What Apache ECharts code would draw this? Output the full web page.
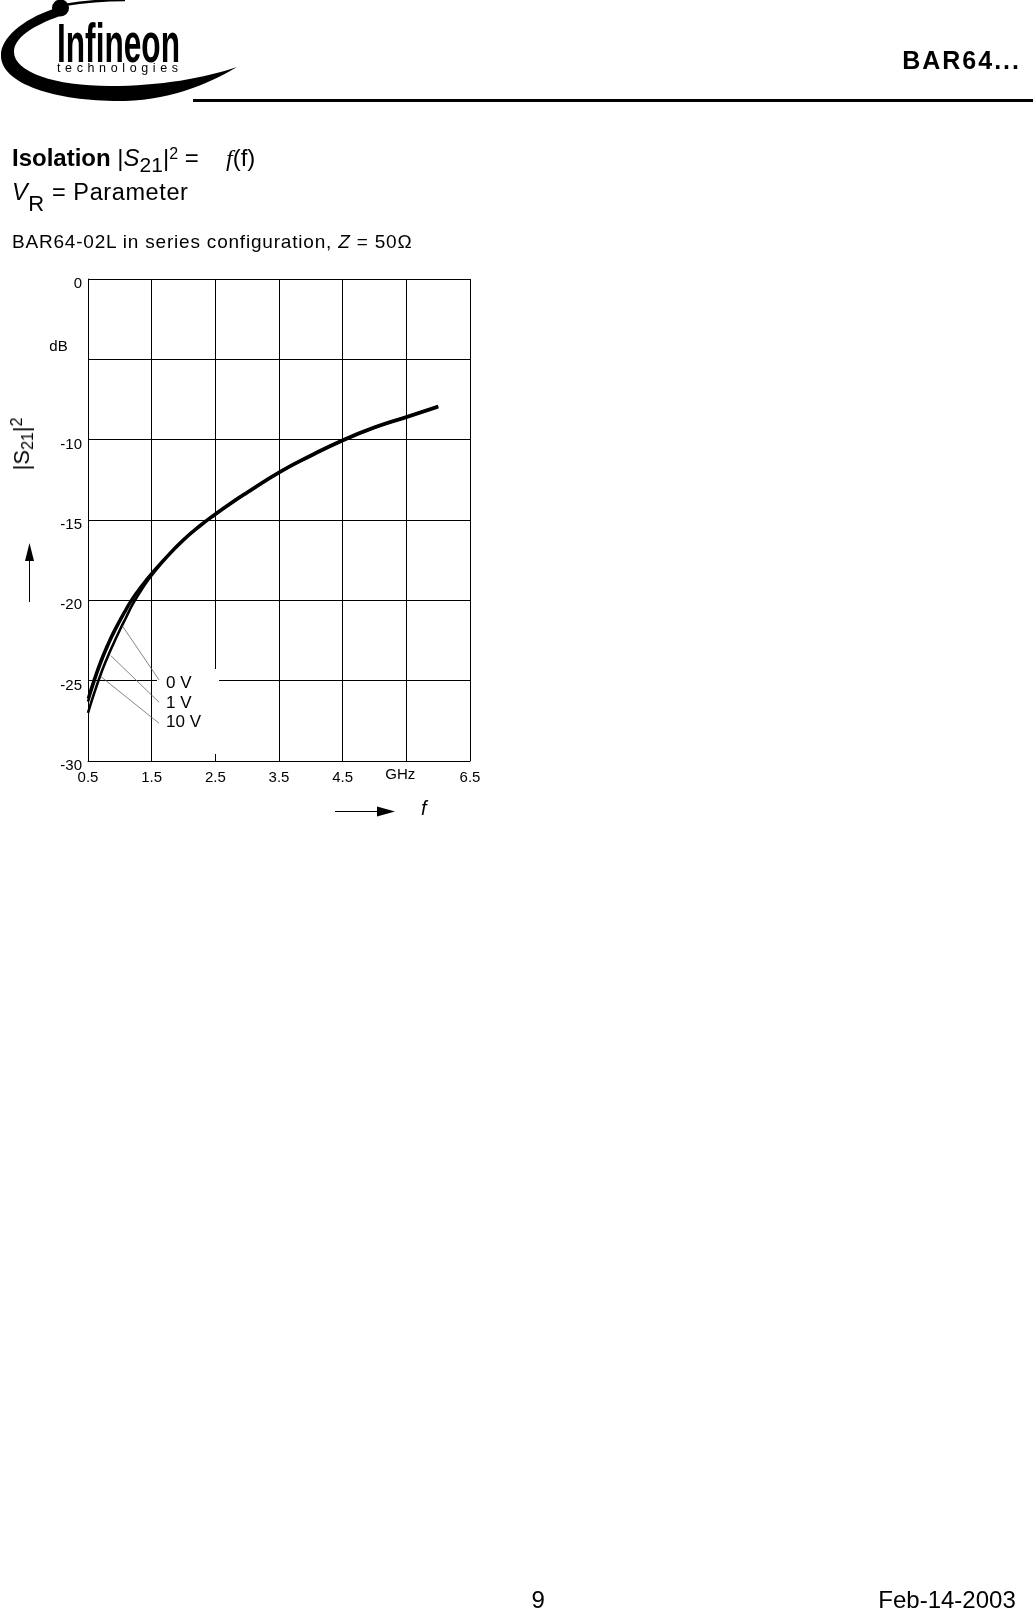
<!DOCTYPE html>
<html>
<head>
<meta charset="utf-8">
<title>BAR64 Isolation |S21|2 = f(f)</title>
<script src="https://cdn.jsdelivr.net/npm/echarts@6/dist/echarts.min.js"></script>
<style>
  html, body { margin: 0; padding: 0; background: #fff; }
  body { width: 1033px; height: 1609px; position: relative; overflow: hidden;
         font-family: "Liberation Sans", Arial, Helvetica, sans-serif; color: #000; }
  #chart { position: absolute; left: 0; top: 0; width: 1033px; height: 1609px; }
  .t { position: absolute; white-space: nowrap; line-height: 1; z-index: 5; }
  .rel { position: relative; }
</style>
</head>
<body>
<div id="chart"></div>

<!-- Header logo -->
<svg class="t" style="left:0;top:0" width="245" height="105" viewBox="0 0 245 105">
  <path d="M237,67 C215,80 175,100 125,101 C60,102 0,85 1,55 C1,38 22,20 53,9 L60,16 C32,26 14,38 14,52 C14,72 55,86 110,86 C160,86 205,78 237,67 Z" fill="#000"/>
  <path d="M64,5 Q95,0 125,0" stroke="#000" stroke-width="2.5" fill="none"/>
  <circle cx="60.5" cy="8" r="8.5" fill="#000"/>
  <text x="57" y="62" font-family="Liberation Sans, Arial, sans-serif" font-weight="bold" font-size="56" textLength="123" lengthAdjust="spacingAndGlyphs">Infineon</text>
  <text x="57" y="72" font-family="Liberation Sans, Arial, sans-serif" font-size="12.5" textLength="121" lengthAdjust="spacing">technologies</text>
</svg>
<div class="t" style="right:12px;top:48px;font-size:25px;font-weight:bold;letter-spacing:2px;">BAR64...</div>
<div class="t" style="left:193px;top:99px;width:840px;height:2.5px;background:#000;"></div>

<!-- Titles -->
<div class="t" style="left:12px;top:145.7px;font-size:24px;"><b>Isolation</b> |<i>S</i><span class="rel" style="top:6px;font-size:21px;">21</span>|<span class="rel" style="top:-7px;font-size:16px;">2</span> =</div>
<div class="t" style="left:226px;top:145.7px;font-size:24px;"><span style="font-family:'Liberation Serif','Times New Roman',serif;font-style:italic;">f</span>(f)</div>
<div class="t" style="left:12px;top:181px;font-size:23.5px;letter-spacing:0.6px;"><i>V</i><span class="rel" style="top:11px;font-size:22px;">R</span> = Parameter</div>
<div class="t" style="left:12px;top:232px;font-size:19px;letter-spacing:0.8px;">BAR64-02L in series configuration, <i>Z</i> = 50Ω</div>

<!-- Y axis title (rotated) -->
<div class="t" style="left:22px;top:444px;font-size:22px;transform:translate(-50%,-50%) rotate(-90deg);">|S<span class="rel" style="top:4px;font-size:16px;">21</span>|<span class="rel" style="top:-7px;font-size:16px;">2</span></div>

<!-- Footer -->
<div class="t" style="left:531.5px;top:1587.7px;font-size:24px;">9</div>
<div class="t" style="left:878.3px;top:1587.7px;font-size:24px;">Feb-14-2003</div>

<script>
// ---------------- Data ----------------
const freq    = [0.5, 0.6, 0.7, 0.8, 0.9, 1.0, 1.1, 1.2, 1.3, 1.4, 1.5, 1.75, 2.0, 2.25, 2.5, 2.75, 3.0, 3.5, 4.0, 4.5, 5.0, 5.5, 6.0];
const s21_0V  = [-26.1, -24.85, -23.75, -22.8, -21.95, -21.2, -20.5, -19.85, -19.3, -18.78, -18.3, -17.2, -16.2, -15.35, -14.6, -13.9, -13.25, -12.0, -10.95, -10.0, -9.2, -8.55, -7.9];
const s21_1V  = [-26.3, -25.05, -23.93, -22.96, -22.1, -21.33, -20.61, -19.94, -19.37, -18.83, -18.35, -17.25, -16.24, -15.39, -14.64, -13.94, -13.29, -12.04, -10.99, -10.04, -9.24, -8.59, -7.94];
const s21_10V = [-27.0, -25.75, -24.6, -23.6, -22.7, -21.85, -21.05, -20.25, -19.6, -18.98, -18.45, -17.28, -16.28, -15.43, -14.68, -13.98, -13.33, -12.08, -11.03, -10.08, -9.28, -8.63, -7.98];
const seriesNames = ['0 V', '1 V', '10 V'];

const xTickValues = [0.5, 1.5, 2.5, 3.5, 4.5, 5.5, 6.5];
const xTickLabels = ['0.5', '1.5', '2.5', '3.5', '4.5', 'GHz', '6.5'];
const yTickValues = [0, -5, -10, -15, -20, -25, -30];
const yTickLabels = ['0', '', '-10', '-15', '-20', '-25', '-30'];

// ---------------- Chart ----------------
const FONT = '"Liberation Sans", Arial, Helvetica, sans-serif';
const chart = echarts.init(document.getElementById('chart'), null, { renderer: 'canvas' });

function pairs(ys) { return freq.map((f, i) => [f, ys[i]]); }
function findIdx(arr, v) { return arr.findIndex(a => Math.abs(a - v) < 1e-6); }

const lineBase = {
  type: 'line', showSymbol: false, symbol: 'none', smooth: 0.5,
  lineStyle: { color: '#000', width: 2.6 }, z: 3, silent: true, animation: false
};

const option = {
  animation: false,
  backgroundColor: 'transparent',
  grid: { left: 88, top: 279, width: 382, height: 482, containLabel: false },
  xAxis: {
    type: 'value', min: 0.5, max: 6.5, interval: 0.5,
    axisLine: { show: true, onZero: false, lineStyle: { color: '#000', width: 1 } },
    axisTick: { show: false },
    splitLine: { show: true, lineStyle: { color: ['#000', 'rgba(0,0,0,0)'], width: 1 } },
    axisLabel: {
      show: true, margin: 6, color: '#000', fontFamily: FONT, fontSize: 15,
      showMinLabel: true, showMaxLabel: true,
      formatter: function (v) {
        const i = findIdx(xTickValues, v);
        if (i < 0) return '';
        const s = xTickLabels[i];
        return s === 'GHz' ? '{g|' + s + '}' : '{n|' + s + '}';
      },
      rich: {
        n: { fontFamily: FONT, fontSize: 15, color: '#000', padding: [3, 0, 0, 0] },
        g: { fontFamily: FONT, fontSize: 15, color: '#000', padding: [0, 12, 0, 0] }
      }
    }
  },
  yAxis: {
    type: 'value', min: -30, max: 0, interval: 5,
    axisLine: { show: true, onZero: false, lineStyle: { color: '#000', width: 1 } },
    axisTick: { show: false },
    splitLine: { show: true, lineStyle: { color: '#000', width: 1 } },
    axisLabel: {
      show: true, margin: 6, color: '#000', fontFamily: FONT, fontSize: 15,
      formatter: function (v) {
        const i = findIdx(yTickValues, v);
        return (i < 0 || yTickLabels[i] === '') ? '' : '{v|' + yTickLabels[i] + '}';
      },
      rich: {
        v: { fontFamily: FONT, fontSize: 15, color: '#000', padding: [10, 0, 0, 0] }
      }
    }
  },
  series: [
    Object.assign({}, lineBase, {
      name: seriesNames[0], data: pairs(s21_0V),
      markLine: {
        silent: true, animation: false, symbol: ['none', 'none'],
        label: { show: false },
        lineStyle: { color: '#666', width: 0.8, type: 'solid' },
        data: [
          [{ coord: [1.615, -24.95] }, { coord: [1.04, -21.59] }],
          [{ coord: [1.615, -26.34] }, { coord: [0.857, -23.44] }],
          [{ coord: [1.615, -27.65] }, { coord: [0.70, -24.74] }]
        ]
      }
    }),
    Object.assign({}, lineBase, { name: seriesNames[1], data: pairs(s21_1V) }),
    Object.assign({}, lineBase, { name: seriesNames[2], data: pairs(s21_10V) })
  ],
  graphic: [
    // white box behind the curve labels
    { type: 'rect', z: 1, silent: true, shape: { x: 157, y: 669, width: 62, height: 85 }, style: { fill: '#fff' } },
    // curve labels
    { type: 'text', z: 10, x: 166, y: 683, silent: true, style: { text: seriesNames[0], fill: '#000', font: '17px ' + FONT, align: 'left', verticalAlign: 'middle' } },
    { type: 'text', z: 10, x: 166, y: 703, silent: true, style: { text: seriesNames[1], fill: '#000', font: '17px ' + FONT, align: 'left', verticalAlign: 'middle' } },
    { type: 'text', z: 10, x: 166, y: 722.5, silent: true, style: { text: seriesNames[2], fill: '#000', font: '17px ' + FONT, align: 'left', verticalAlign: 'middle' } },
    // unit
    { type: 'text', z: 10, x: 58.5, y: 347, silent: true, style: { text: 'dB', fill: '#000', font: '15px ' + FONT, align: 'center', verticalAlign: 'middle' } },
    // up arrow
    { type: 'line', z: 10, silent: true, shape: { x1: 29.5, y1: 602, x2: 29.5, y2: 556 }, style: { stroke: '#000', lineWidth: 1 } },
    { type: 'polygon', z: 10, silent: true, shape: { points: [[29.5, 543], [25, 561], [34, 561]] }, style: { fill: '#000' } },
    // right arrow
    { type: 'line', z: 10, silent: true, shape: { x1: 335, y1: 811.5, x2: 380, y2: 811.5 }, style: { stroke: '#000', lineWidth: 1 } },
    { type: 'polygon', z: 10, silent: true, shape: { points: [[395, 811.5], [377, 806.5], [377, 816.5]] }, style: { fill: '#000' } },
    { type: 'text', z: 10, x: 421, y: 809, silent: true, style: { text: 'f', fill: '#000', font: 'italic 20px ' + FONT, align: 'left', verticalAlign: 'middle' } }
  ]
};
chart.setOption(option);
</script>
</body>
</html>
